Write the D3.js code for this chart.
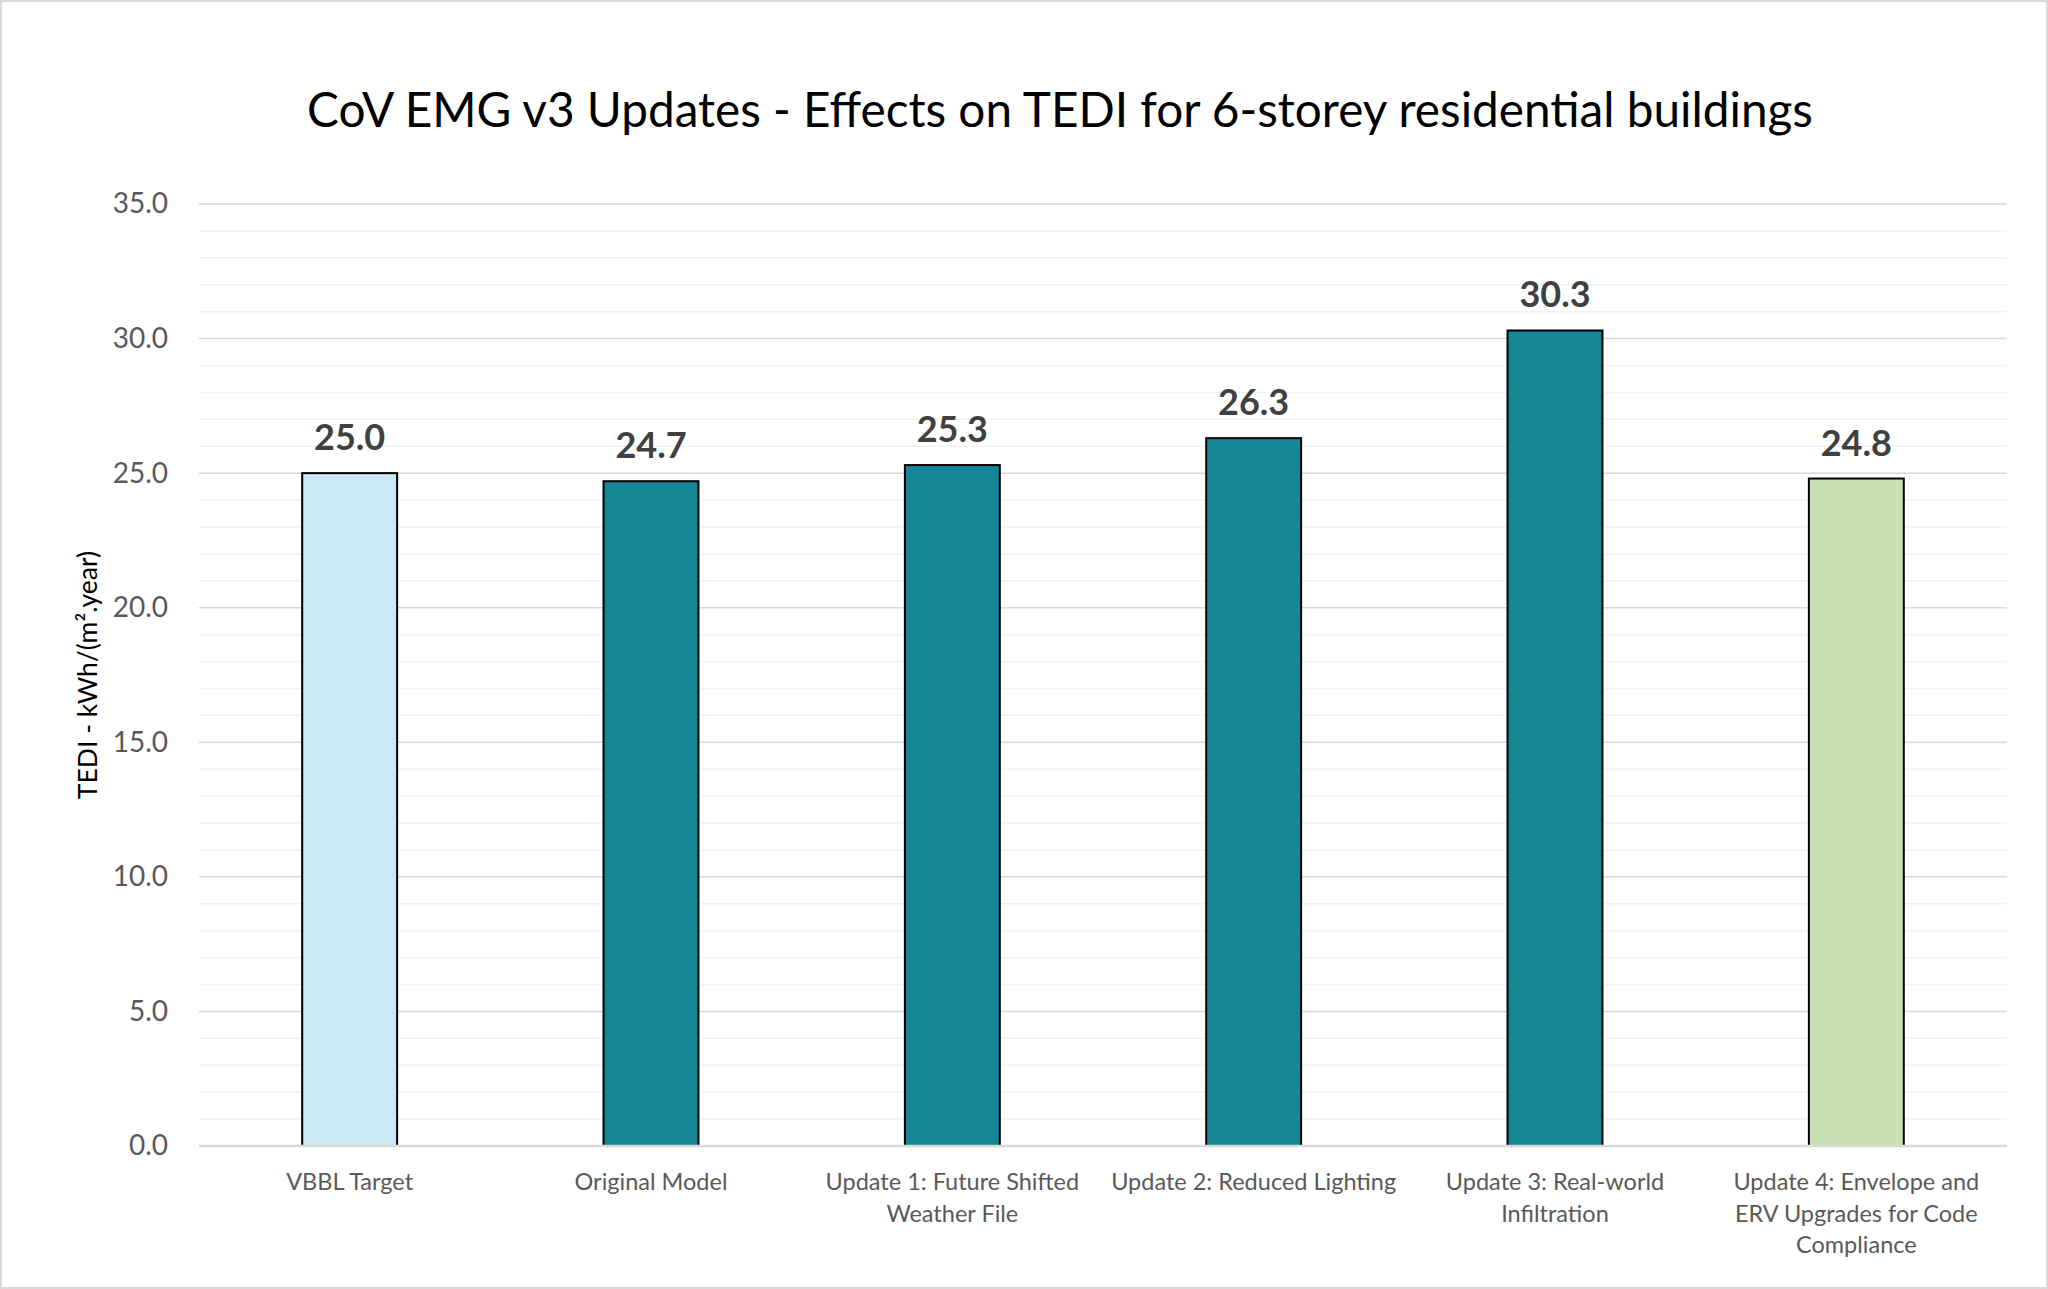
<!DOCTYPE html>
<html>
<head>
<meta charset="utf-8">
<script src="https://cdn.jsdelivr.net/npm/d3@7"></script>
<style>
  html, body { margin: 0; padding: 0; background: #fff; }
  svg { display: block; }
</style>
</head>
<body>
<div id="chart"></div>
<script>
// chart values
const categories = [
  ['VBBL Target'],
  ['Original Model'],
  ['Update 1: Future Shifted', 'Weather File'],
  ['Update 2: Reduced Lighting'],
  ['Update 3: Real-world', 'Infiltration'],
  ['Update 4: Envelope and', 'ERV Upgrades for Code', 'Compliance']
]
const values = [25.0, 24.7, 25.3, 26.3, 30.3, 24.8]
const barColors = ['#cce8f5', '#158696', '#158696', '#158696', '#158696', '#c6e0b4']
const yTicks = [0, 5, 10, 15, 20, 25, 30, 35]

const width = 2048,
  height = 1289
const margin = {top: 204, right: 41, bottom: 143, left: 199}

const svg = d3.select('#chart')
  .append('svg')
  .attr('width', width)
  .attr('height', height)

// outer border
svg.append('rect')
  .attr('x', 1).attr('y', 1)
  .attr('width', width - 2).attr('height', height - 2)
  .attr('fill', '#fff')
  .attr('stroke', '#d9d9d9')
  .attr('stroke-width', 2)

const x = d3.scaleBand()
  .domain(d3.range(categories.length))
  .range([margin.left, width - margin.right])
  .paddingInner(0.685)
  .paddingOuter(0.3425)

const y = d3.scaleLinear()
  .domain([0, 35])
  .range([height - margin.bottom, margin.top])

// minor gridlines every 1.0
svg.append('g')
  .selectAll('line')
  .data(d3.range(1, 35).filter(v => v % 5 !== 0))
  .enter().append('line')
  .attr('x1', margin.left)
  .attr('x2', width - margin.right)
  .attr('y1', d => y(d))
  .attr('y2', d => y(d))
  .attr('stroke', '#f2f2f2')
  .attr('stroke-width', 1.5)

// major gridlines
svg.append('g')
  .selectAll('line')
  .data(yTicks.filter(v => v > 0))
  .enter().append('line')
  .attr('x1', margin.left)
  .attr('x2', width - margin.right)
  .attr('y1', d => y(d))
  .attr('y2', d => y(d))
  .attr('stroke', '#d9d9d9')
  .attr('stroke-width', 1.5)

// y axis labels
const yAxis = d3.axisLeft(y)
  .tickValues(yTicks)
  .tickFormat(d3.format('.1f'))
  .tickSize(0)
  .tickPadding(31)
svg.append('g')
  .attr('transform', `translate(${margin.left}, 0)`)
  .call(yAxis)
  .call(g => g.select('.domain').remove())
  .selectAll('text')
  .attr('font-family', 'Lato, sans-serif')
  .attr('font-size', 28)
  .attr('fill', '#595959')

// bars
svg.append('g')
  .selectAll('rect')
  .data(values)
  .enter().append('rect')
  .attr('x', (d, i) => x(i))
  .attr('y', d => y(d))
  .attr('width', x.bandwidth())
  .attr('height', d => y(0) - y(d))
  .attr('fill', (d, i) => barColors[i])
  .attr('stroke', '#000')
  .attr('stroke-width', 2)

// x axis line
svg.append('line')
  .attr('x1', margin.left)
  .attr('x2', width - margin.right)
  .attr('y1', y(0))
  .attr('y2', y(0))
  .attr('stroke', '#d9d9d9')
  .attr('stroke-width', 2.5)

// data labels
svg.append('g')
  .selectAll('text')
  .data(values)
  .enter().append('text')
  .attr('x', (d, i) => x(i) + x.bandwidth() / 2)
  .attr('y', d => y(d) - 23)
  .attr('text-anchor', 'middle')
  .attr('font-family', 'Lato, sans-serif')
  .attr('font-weight', 'bold')
  .attr('font-size', 36)
  .attr('fill', '#404040')
  .text(d => d3.format('.1f')(d))

// category labels
const catText = svg.append('g')
  .selectAll('text')
  .data(categories)
  .enter().append('text')
  .attr('x', (d, i) => x(i) + x.bandwidth() / 2)
  .attr('y', y(0) + 44)
  .attr('text-anchor', 'middle')
  .attr('font-family', 'Lato, sans-serif')
  .attr('font-size', 23.5)
  .attr('fill', '#595959')
catText.selectAll('tspan')
  .data(d => d)
  .enter().append('tspan')
  .attr('x', function() { return d3.select(this.parentNode).attr('x') })
  .attr('dy', (d, i) => i === 0 ? 0 : 31.5)
  .text(d => d)

// axis title
svg.append('text')
  .attr('transform', `translate(97, ${(y(0) + y(35)) / 2}) rotate(-90)`)
  .attr('text-anchor', 'middle')
  .attr('font-family', 'Lato, sans-serif')
  .attr('font-size', 26.5)
  .attr('fill', '#000')
  .text('TEDI - kWh/(m².year)')

// chart title
svg.append('text')
  .attr('x', 1060)
  .attr('y', 127)
  .attr('text-anchor', 'middle')
  .attr('font-family', 'Lato, sans-serif')
  .attr('font-size', 47.7)
  .attr('fill', '#000')
  .text('CoV EMG v3 Updates - Effects on TEDI for 6-storey residential buildings')
</script>
</body>
</html>
